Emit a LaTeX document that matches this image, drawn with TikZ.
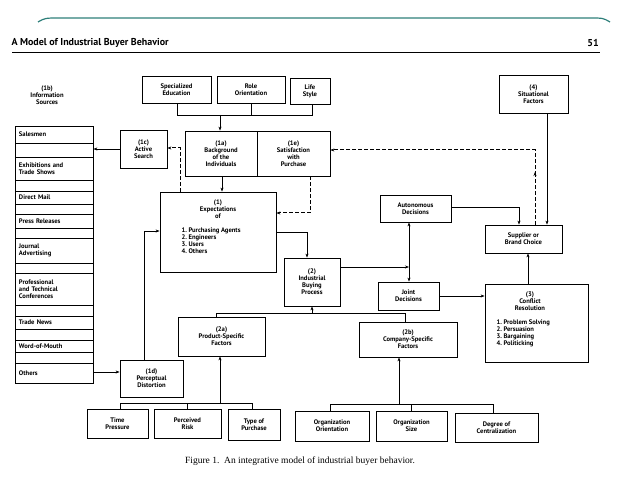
\documentclass[tikz,border=0pt]{standalone}
\usepackage{fontspec}
\setmainfont{Liberation Serif}
\newfontfamily\fut{PT Sans}
\usetikzlibrary{arrows.meta}
\definecolor{teal1}{HTML}{2E7F7A}
\newcommand\bx[6]{\node[box,minimum width={(#4-#2)*1pt},minimum height={(#5-#3)*1pt}] (#1) at ({(#2+#4)/2},{(#3+#5)/2}) {#6};}
\newcommand\rw[4]{\node[row,minimum height={(#3-#2)*1pt}] (#1) at (54,{(#2+#3)/2}) {#4};}
\begin{document}
\begin{tikzpicture}[x=1pt,y=-1pt,
  box/.style={draw,line width=0.8pt,inner sep=0pt,align=center,font=\fut\bfseries\fontsize{6.6}{7}\selectfont},
  row/.style={draw,line width=0.8pt,inner sep=0pt,minimum width=78pt,align=left,text width=70pt,font=\fut\bfseries\fontsize{6.6}{7}\selectfont},
  lbl/.style={align=center,font=\fut\bfseries\fontsize{6.6}{7}\selectfont},
  ar/.style={-{Stealth[length=4pt,width=3pt]},line width=0.7pt},
  ln/.style={line width=0.7pt},
  dsh/.style={ar,dashed,dash pattern=on 4pt off 2pt,line width=1pt}]
\useasboundingbox (0,0) rectangle (638,478);
% header
\draw[teal1,line width=1.2pt] (38,22) .. controls (45,18) .. (60,18) -- (590,18) .. controls (603,18) .. (610,22);
\node[anchor=west,font=\fut\bfseries\fontsize{10}{11}\selectfont] (title) at (8,43) {A Model of Industrial Buyer Behavior};
\node[font=\fut\bfseries\fontsize{10}{11}\selectfont] (pg) at (593,43) {51};
\draw[line width=0.6pt] (12,52) -- (600,52);
% information sources
\node[lbl] (ib) at (47,95) {(1b)\\Information\\Sources};
\rw{s1}{126}{143}{Salesmen}
\rw{s2}{143}{157}{}
\rw{s3}{157}{180}{Exhibitions and\\Trade Shows}
\rw{s4}{180}{191}{}
\rw{s5}{191}{204}{Direct Mail}
\rw{s6}{204}{214}{}
\rw{s7}{214}{228}{Press Releases}
\rw{s8}{228}{238}{}
\rw{s9}{238}{263}{Journal\\Advertising}
\rw{s10}{263}{273}{}
\rw{s11}{273}{305}{Professional\\and Technical\\Conferences}
\rw{s12}{305}{316}{}
\rw{s13}{316}{329}{Trade News}
\rw{s14}{329}{340}{}
\rw{s15}{340}{352}{Word-of-Mouth}
\rw{s16}{352}{363}{}
\rw{s17}{363}{383}{Others}
% boxes
\bx{ed}{142}{76}{211}{103}{Specialized\\Education}
\bx{ro}{217}{76}{285}{103}{Role\\Orientation}
\bx{ls}{290}{78}{330}{104}{Life\\Style}
\bx{ic}{120}{130}{167}{168}{(1c)\\Active\\Search}
\bx{ia}{185}{131}{257}{176}{(1a)\\Background\\of the\\Individuals}
\bx{ie}{257}{131}{330}{176}{(1e)\\Satisfaction\\with\\Purchase}
\node[box,minimum width=116pt,minimum height=80pt] (one) at (218,232) {};
\node[lbl,anchor=north] (onet) at (218,196) {(1)\\Expectations\\of};
\node[lbl,anchor=north west,align=left] (onel) at (178,224) {1.\ Purchasing Agents\\2.\ Engineers\\3.\ Users\\4.\ Others};
\bx{two}{284}{258}{340}{306}{(2)\\Industrial\\Buying\\Process}
\bx{au}{380}{195}{451}{222}{Autonomous\\Decisions}
\bx{jd}{378}{282}{439}{310}{Joint\\Decisions}
\bx{sup}{485}{225}{562}{253}{Supplier or\\Brand Choice}
\bx{sit}{499}{75}{568}{113}{(4)\\Situational\\Factors}
\node[box,minimum width=103pt,minimum height=78pt] (three) at (536.5,323) {};
\node[lbl,anchor=north] (threet) at (530,288) {(3)\\Conflict\\Resolution};
\node[lbl,anchor=north west,align=left] (threel) at (493,316) {1.\ Problem Solving\\2.\ Persuasion\\3.\ Bargaining\\4.\ Politicking};
\bx{tA}{178}{317}{265}{356}{(2a)\\Product-Specific\\Factors}
\bx{tB}{359}{322}{457}{357}{(2b)\\Company-Specific\\Factors}
\bx{id}{120}{360}{183}{397}{(1d)\\Perceptual\\Distortion}
\bx{tp}{87}{409}{148}{438}{Time\\Pressure}
\bx{pr}{154}{409}{221}{438}{Perceived\\Risk}
\bx{ty}{228}{409}{280}{440}{Type of\\Purchase}
\bx{oo}{295}{411}{369}{441}{Organization\\Orientation}
\bx{os}{376}{411}{447}{441}{Organization\\Size}
\bx{dc}{455}{413}{538}{442}{Degree of\\Centralization}
\node (cap) at (300,461) {\fontsize{9.5}{11}\selectfont \textsc{Figure} 1.\ \ An integrative model of industrial buyer behavior.};
% connectors
\coordinate (b1) at (177,115); \coordinate (b2) at (312,115); \coordinate (b3) at (251,115);
\draw[ln] (ed.south-|b1) -- (b1) -- (b2) -- (ls.south-|b2);
\draw[ln] (ro.south-|b3) -- (b3);
\draw[ar] (220,115) -- (ia.north-|220,0);
\draw[ar] (ia.south-|222,0) -- (one.north-|222,0);
\draw[ar] (ic.west) -- (ic.west-|s1.east);
\draw[dsh] (one.north-|180,0) -- (180,148) -- (ic.east|-180,148);
\draw[dsh] (ie.south-|310,0) -- (310,213) -- (one.east|-310,213);
\draw[ar] (one.east|-0,232) -- (307,232) -- (two.north-|307,0);
\coordinate (jn) at (409,267);
\draw[ar] (two.east|-jn) -- (jn);
\draw[{Stealth[length=4pt,width=3pt]}-{Stealth[length=4pt,width=3pt]},line width=0.7pt] (au.south-|jn) -- (jd.north-|jn);
\draw[ar] (au.east|-0,207) -- (519,207) -- (sup.north-|519,0);
\draw[ar] (sit.south-|547,0) -- (sup.north-|547,0);
\draw[dsh] (sup.north-|535,0) -- (535,172);
\draw[dsh] (535,175) -- (535,150) -- (ie.east|-535,150);
\draw[ar] (jd.east) -- (three.west|-jd.east);
\draw[ar] (three.north-|528,0) -- (sup.south-|528,0);
\coordinate (c1) at (216,313); \coordinate (c2) at (405,313);
\draw[ln] (tA.north-|c1) -- (c1) -- (c2) -- (tB.north-|c2);
\draw[ar] (312,313) -- (two.south-|312,0);
\draw[ar] (s17.east|-0,372) -- (id.west|-0,372);
\draw[ar] (id.north-|144,0) -- (144,231) -- (one.west|-144,231);
\coordinate (d1) at (120,403); \coordinate (d2) at (252,403);
\draw[ln] (tp.north-|d1) -- (d1) -- (d2) -- (ty.north-|d2);
\draw[ln] (pr.north-|187,0) -- (187,403);
\draw[ar] (220,403) -- (tA.south-|220,0);
\coordinate (e1) at (330,404); \coordinate (e2) at (493,404);
\draw[ln] (oo.north-|e1) -- (e1) -- (e2) -- (dc.north-|e2);
\draw[ln] (os.north-|411,0) -- (411,404);
\draw[ar] (399,404) -- (tB.south-|399,0);
\end{tikzpicture}
\end{document}
